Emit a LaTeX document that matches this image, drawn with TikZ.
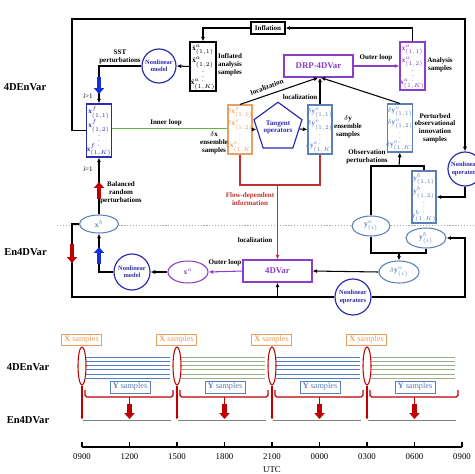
\documentclass[tikz,border=0pt]{standalone}
\usepackage{fontspec}
\setmainfont{Liberation Serif}
\usetikzlibrary{shapes.geometric,arrows.meta,calc}
\definecolor{purp}{HTML}{8A3FC8}
\definecolor{stb}{HTML}{5B7FB8}
\definecolor{dkb}{HTML}{2B2BB0}
\definecolor{org}{HTML}{E8A060}
\definecolor{dred}{HTML}{C00000}
\definecolor{fred}{HTML}{C03030}
\definecolor{grn}{HTML}{6DB33F}
\definecolor{tlgreen}{HTML}{9AAE86}
\definecolor{tlblue}{HTML}{5580C0}
\definecolor{fblue}{HTML}{1030E0}
\newcommand{\smprows}[3]{%
 \node[srow, text=#3] (#1r1) at ($(#1.north)!0.17!(#1.south)$) {$#2_{(1,1)}$};
 \node[srow, text=#3] (#1r2) at ($(#1.north)!0.42!(#1.south)$) {$#2_{(1,2)}$};
 \node[srow, text=#3] (#1r3) at ($(#1.north)!0.635!(#1.south)$) {$\vdots$};
 \node[srow, text=#3] (#1r4) at ($(#1.north)!0.86!(#1.south)$) {$#2_{(1,K)}$};
}
\tikzset{
 ln/.style={line width=0.9pt, draw=black},
 tip/.style={-{Latex[length=4pt,width=3.5pt]}},
 lab/.style={font=\fontsize{6}{6.6}\selectfont\bfseries, align=center, inner sep=0pt},
 side/.style={font=\fontsize{9}{10}\selectfont\bfseries, inner sep=0pt},
 sbox/.style={draw, line width=0.9pt, fill=white, minimum width=0.75cm, minimum height=1.5cm, inner sep=0pt},
 srow/.style={inner sep=0pt, font=\fontsize{6}{7}\selectfont},
 circ/.style={circle, draw=dkb, line width=1pt, fill=white, text=dkb, font=\fontsize{5.5}{6.2}\selectfont\bfseries, align=center, inner sep=0pt, minimum size=1.02cm},
 ell/.style={ellipse, draw=stb, line width=0.9pt, fill=white, text=stb, inner sep=0pt, font=\fontsize{6.5}{7}\selectfont},
 pbox/.style={draw=purp, line width=0.9pt, text=purp, font=\fontsize{7.5}{8}\selectfont\bfseries, minimum width=2.07cm, minimum height=0.66cm, fill=white},
 fatarr/.style={line width=4pt, -{Triangle[length=5pt,width=8.5pt]}},
 xs/.style={draw=org, text=org, line width=0.7pt, font=\fontsize{7}{8}\selectfont, inner sep=0pt, minimum width=1.2cm, minimum height=0.33cm},
 ys/.style={draw=stb, text=stb, line width=0.7pt, font=\fontsize{7}{8}\selectfont, inner sep=0pt, minimum width=1.2cm, minimum height=0.36cm},
 sell/.style={ellipse, draw=dred, line width=0.9pt, inner sep=0pt, minimum width=0.24cm, minimum height=1.14cm},
 tl/.style={font=\fontsize{7.5}{8}\selectfont, inner sep=0pt}
}
\begin{document}
\begin{tikzpicture}[x=0.03cm,y=-0.03cm]
\useasboundingbox (0,0) rectangle (474,474);
\fill[white] (0,0) rectangle (474,474);

% divider
\draw[gray!70, line width=0.6pt, dash pattern=on 1pt off 1.5pt] (57,225) -- (474,225);

% side labels
\node[side] (l1) at (25,87) {4DEnVar};
\node[side] (l2) at (25.5,252) {En4DVar};

% sample boxes
\node[sbox, draw=dkb, minimum height=1.59cm] (xf) at (99,130.5) {};
\node[sbox, draw=black, minimum width=0.78cm, minimum height=1.47cm] (xhat) at (203,66.5) {};
\node[sbox, draw=org, minimum width=0.72cm, minimum height=1.47cm] (dx) at (240,129.5) {};
\node[sbox, draw=stb, minimum width=0.72cm, minimum height=1.47cm] (dy) at (320,129.5) {};
\node[sbox, draw=purp, minimum height=1.44cm] (xa) at (412.5,66) {};
\node[sbox, draw=stb, minimum height=1.44cm] (dyo) at (400,128) {};
\node[sbox, draw=stb, minimum width=0.72cm, minimum height=1.56cm] (yb) at (424,197) {};
\smprows{xf}{\mathbf{x}^{f}}{dkb}
\smprows{xhat}{\hat{\mathbf{x}}^{a}}{black}
\smprows{dx}{\delta\mathbf{x}^{e}}{org}
\smprows{dy}{\delta\mathbf{y}^{e}}{stb}
\smprows{xa}{\mathbf{x}^{a}}{purp}
\smprows{dyo}{\delta\mathbf{y}^{o}}{stb}
\smprows{yb}{\mathbf{y}^{b}}{stb}

\node[draw=black, line width=0.9pt, fill=white, lab, minimum width=1.02cm, minimum height=0.36cm] (infl) at (268,28) {Inflation};
\node[pbox] (drp) at (318.5,66) {DRP-4DVar};
\node[pbox] (v4d) at (277.5,271) {4DVar};

\node[circ] (nlm1) at (159,66) {Nonlinear\\model};
\node[circ] (nlo1) at (465,169) {Nonlinear\\operators};
\node[circ, minimum size=1.08cm] (nlm2) at (132,272) {Nonlinear\\model};
\node[circ, minimum size=1.08cm] (nlo2) at (353,297) {Nonlinear\\operators};

\node[regular polygon, regular polygon sides=5, draw=dkb, line width=1pt, fill=white, text=dkb, font=\fontsize{6}{6.6}\selectfont\bfseries, minimum size=1.1cm, inner sep=0pt, align=center] (tang) at (278,127.5) {Tangent\\operators};

\node[ell, minimum width=1.17cm, minimum height=0.54cm] (xb) at (99,224) {$\mathbf{x}^{b}$};
\node[ell, minimum width=1.14cm, minimum height=0.6cm] (yo) at (371,226) {$\mathbf{y}^{o}_{(i)}$};
\node[ell, minimum width=1.2cm, minimum height=0.6cm] (ybi) at (426,238) {$\mathbf{y}^{b}_{(i)}$};
\node[ell, minimum width=1.2cm, minimum height=0.66cm] (dyoi) at (399,272) {$\delta\mathbf{y}^{o}_{(i)}$};
\node[ell, draw=purp, text=purp, minimum width=1.2cm, minimum height=0.66cm] (xae) at (188,272) {$\mathbf{x}^{a}$};

% coordinates
\coordinate (tl) at (72,19);
\coordinate (op) at (399,166);
\coordinate (jn) at (399,253);
\coordinate (fd) at (277.5,185);
\coordinate (bl) at (72,297);
\coordinate (rc) at (465,238);

% connectors (upper)
\draw[ln,tip] (xf.west) -| (tl) -| (nlo1.north);
\draw[ln,tip] (xa.north) |- (infl.east);
\draw[ln,tip] (infl.west) -| (xhat.north);
\draw[ln,tip] (xhat.west) -- (nlm1.east);
\draw[ln,tip] (nlm1.west) -| (xf.north);
\draw[ln,tip] (xb.north) -- (xf.south);
\draw[grn, line width=0.8pt] (xf.east |- 0,128) -- (dx.west |- 0,128);
\draw[ln,tip] (dx.east) -- (tang);
\draw[ln,tip] (tang) -- (dy.west);
\draw[ln,tip] (dx.north) -- (drp.south);
\draw[ln,tip] (dy.north) -- (dy.north |- drp.south);
\draw[ln,tip] (dyo.north) -- ($(drp.south)+(2,0)$);
\draw[purp, line width=0.9pt, tip] (drp.east) -- (xa.west);
\draw[ln,tip] (nlo1.south) |- (yb.east);
\draw[ln] (yo.north) |- (yb.north |- op) -- (yb.north);
\draw[ln,tip] (op) -- (dyo.south);
\draw[fred, line width=0.9pt] (dx.south) |- (fd) -| (dy.south);
\draw[fred, line width=0.9pt, tip] (fd) -- (v4d.north);

% connectors (lower)
\draw[ln] (yo.south) |- (jn) -| (ybi.south);
\draw[ln,tip] (jn) -- (dyoi.north);
\draw[ln,tip] (dyoi.west) -- (v4d.east);
\draw[purp, line width=0.9pt, tip] (v4d.west) -- (xae.east);
\draw[ln,tip] (xae.west) -- (nlm2.east);
\draw[ln,tip] (nlm2.west) -| (xb.south);
\draw[ln] (xb.west) -| (bl) -- (nlo2.west);
\draw[ln,tip] (nlo2.east) -| (rc) -- (ybi.east);
\draw[ln,tip] (v4d.south |- bl) -- (v4d.south);

% fat arrows
\coordinate (fa1s) at (99,77);  \coordinate (fa1e) at (99,94);
\coordinate (fa2s) at (99,199); \coordinate (fa2e) at (99,182);
\coordinate (fa3s) at (72,244); \coordinate (fa3e) at (72,263);
\coordinate (fa4s) at (99,264); \coordinate (fa4e) at (99,247);
\draw[fatarr, fblue] (fa1s) -- (fa1e);
\draw[fatarr, dred] (fa2s) -- (fa2e);
\draw[fatarr, dred] (fa3s) -- (fa3e);
\draw[fatarr, fblue] (fa4s) -- (fa4e);

% labels
\node[lab] (t1) at (120,57) {SST\\perturbations};
\node[lab, font=\fontsize{6}{6.6}\selectfont] (t2) at (88,96) {\textit{i}>1};
\node[lab, font=\fontsize{6}{6.6}\selectfont] (t3) at (88,169) {\textit{i}=1};
\node[lab] (t4) at (121,193) {Balanced\\random\\perturbations};
\node[lab] (t5) at (166,123) {Inner loop};
\node[lab] (t6) at (214,143) {$\delta$x\\ensemble\\samples};
\node[lab, align=left] (t7) at (230,65) {Inflated\\analysis\\samples};
\node[lab, rotate=20] (t8) at (267,87) {localization};
\node[lab] (t9) at (300,97) {localization};
\node[lab] (t10) at (348,127) {$\delta$y\\ensemble\\samples};
\node[lab] (t11) at (376,58) {Outer loop};
\node[lab] (t12) at (440,65) {Analysis\\samples};
\node[lab] (t13) at (435,128) {Perturbed\\observational\\innovation\\samples};
\node[lab] (t14) at (367,157) {Observation\\perturbations};
\node[lab, text=fred] (t15) at (250,199) {Flow-dependent\\information};
\node[lab] (t16) at (255,240) {localization};
\node[lab] (t17) at (225,263) {Outer loop};

% ===== timeline =====
\node[side] (l3) at (28,367) {4DEnVar};
\node[side] (l4) at (28,420) {En4DVar};

\foreach \k/\c in {0/tlblue,1/tlgreen,2/tlblue,3/tlgreen} {
  \pgfmathsetmacro\s{82+95*\k}
  \foreach \j in {0,...,5} {
    \draw[\c, line width=0.7pt] (\s+4,357+4.3*\j) -- (\s+88,357+4.3*\j);
  }
  \node[xs] (xs\k) at (\s-0.5,339.5) {\textbf{X} samples};
  \node[sell] (se\k) at (\s,366) {};
  \coordinate (en\k) at (\s,420);
  \draw[dred, line width=0.9pt, -{Latex[length=3pt,width=2.5pt]}] (se\k.south) -- (en\k);
  \draw[gray, line width=0.7pt] (\s+1,420) -- (\s+89,420);
  \draw[dred, line width=1pt, rounded corners=1.5pt] (\s+3,390) -- (\s+3,397) -- (\s+91,397) -- (\s+91,390);
  \coordinate (bm\k) at (\s+47.5,397);
  \coordinate (tas\k) at (\s+47.5,404);
  \coordinate (tae\k) at (\s+47.5,419);
  \draw[dred, line width=1pt] (bm\k) -- (tas\k);
  \draw[fatarr, dred] (tas\k) -- (tae\k);
  \node[ys] (ysm\k) at (\s+48,387) {\textbf{Y} samples};
}

% axis
\coordinate (a0) at (82,447);
\coordinate (a1) at (462,447);
\draw[black, line width=0.9pt] (a0) -- (a1);
\foreach \i/\t in {0/0900,1/1200,2/1500,3/1800,4/2100,5/0000,6/0300,7/0600,8/0900} {
  \draw[black, line width=0.9pt] (82+47.5*\i,447) -- (82+47.5*\i,441.5);
  \node[tl] (tk\i) at (82+47.5*\i,457) {\t};
}
\node[tl] (utc) at (272,470) {UTC};
\end{tikzpicture}
\end{document}
